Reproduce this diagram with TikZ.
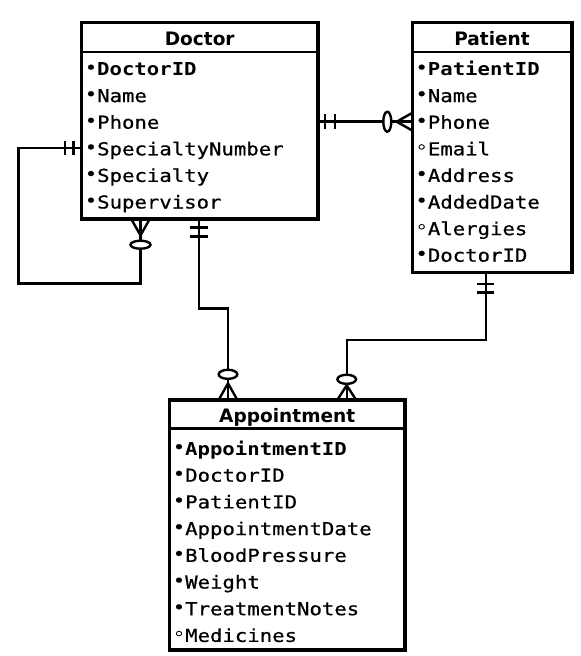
\documentclass[tikz,border=0pt]{standalone}
\usepackage{fontspec}
\setmainfont{DejaVu Sans}
\newfontfamily\attrfont[FakeStretch=1.16, UprightFeatures={FakeBold=0.7}]{DejaVu Sans Mono}
\usetikzlibrary{calc}
\newcommand{\mbul}{\raisebox{1.3pt}{•}}
\newcommand{\obul}{\raisebox{1.3pt}{◦}}
\tikzset{
  entity/.style={draw, line width=1.8pt, anchor=north west, inner sep=0pt, fill=white},
  sepline/.style={line width=1.8pt},
  title/.style={font=\fontsize{13.9pt}{16pt}\selectfont\bfseries, anchor=base, inner sep=0pt},
  attr/.style={font=\attrfont\fontsize{13.35pt}{16pt}\selectfont, anchor=base west, inner sep=0pt},
  link/.style={line width=1.8pt},
  oval/.style={line width=1.8pt, fill=white},
}
\begin{document}
\begin{tikzpicture}[x=0.75pt,y=-0.75pt]
\useasboundingbox (0,0) rectangle (581,656);

% ---------- entities ----------
\node[entity, minimum width=176.25pt, minimum height=146.25pt] (doc) at (81,22) {};
\node[entity, minimum width=118.7pt, minimum height=186.5pt] (pat) at (411.7,22) {};
\node[entity, minimum width=175.5pt, minimum height=186.5pt] (app) at (169,399.3) {};

% ---------- connectors ----------
% Doctor -- Patient
\coordinate (c1a) at (doc.east |- 0,121.7);
\coordinate (c1b) at (pat.west |- 0,121.7);
\draw[link] (c1a) -- (c1b);
\draw[link] ($(c1a)+(6.7,-7.5)$) -- ($(c1a)+(6.7,7.5)$);
\draw[link] ($(c1a)+(16.3,-7.5)$) -- ($(c1a)+(16.3,7.5)$);
\draw[link] ($(c1b)+(0,-8.5)$) -- ($(c1b)+(-15,0)$) -- ($(c1b)+(0,8.5)$);
\draw[oval] ($(c1b)+(-24.4,0)$) ellipse [x radius=3pt, y radius=7.5pt];

% Doctor self relation (Supervisor)
\coordinate (s1) at (doc.west |- 0,148.3);
\coordinate (s2) at (doc.south -| 140.5,0);
\draw[link] (s1) -| (18.3,283.3) -| (s2);
\draw[link] ($(s1)+(-16,-7)$) -- ($(s1)+(-16,7)$);
\draw[link] ($(s1)+(-7.7,-7)$) -- ($(s1)+(-7.7,7)$);
\draw[link] ($(s2)+(-9,0)$) -- ($(s2)+(0,16)$) -- ($(s2)+(9,0)$);
\draw[oval] ($(s2)+(0,25.3)$) ellipse [x radius=7.5pt, y radius=3pt];

% Doctor -- Appointment
\coordinate (d1) at (doc.south -| 198.8,0);
\coordinate (a1) at (app.north -| 228,0);
\draw[link] (d1) -- (d1 |- 0,308.3) -| (a1);
\draw[link] ($(d1)+(-9,8)$) -- ($(d1)+(9,8)$);
\draw[link] ($(d1)+(-9,17)$) -- ($(d1)+(9,17)$);
\draw[link] ($(a1)+(-9,0)$) -- ($(a1)+(0,-16)$) -- ($(a1)+(9,0)$);
\draw[oval] ($(a1)+(0,-25)$) ellipse [x radius=7pt, y radius=3.4pt];

% Patient -- Appointment
\coordinate (p1) at (pat.south -| 485.7,0);
\coordinate (a2) at (app.north -| 346.7,0);
\draw[link] (p1) -- (p1 |- 0,340) -| (a2);
\draw[link] ($(p1)+(-8.5,11)$) -- ($(p1)+(8.5,11)$);
\draw[link] ($(p1)+(-8.5,19.3)$) -- ($(p1)+(8.5,19.3)$);
\draw[link] ($(a2)+(-9,0)$) -- ($(a2)+(0,-14)$) -- ($(a2)+(9,0)$);
\draw[oval] ($(a2)+(0,-20)$) ellipse [x radius=7pt, y radius=3.4pt];

% redraw entity borders on top
\draw[sepline] (doc.north west) rectangle (doc.south east);
\draw[sepline] (pat.north west) rectangle (pat.south east);
\draw[sepline] (app.north west) rectangle (app.south east);

% header separators
\draw[sepline] ($(doc.north west)+(0,30)$) -- ($(doc.north east)+(0,30)$);
\draw[sepline] ($(pat.north west)+(0,30)$) -- ($(pat.north east)+(0,30)$);
\draw[sepline] ($(app.north west)+(0,29)$) -- ($(app.north east)+(0,29)$);

% titles
\node[title] (doct) at ($(doc.north)+(0,24)$) {Doctor};
\node[title] (patt) at ($(pat.north)+(0,24)$) {Patient};
\node[title] (appt) at ($(app.north)+(0,23)$) {Appointment};

% attributes
\foreach \t [count=\i from 0] in {{\mbul\bfseries DoctorID},\mbul Name,\mbul Phone,\mbul SpecialtyNumber,\mbul Specialty,\mbul Supervisor}
  \node[attr] (doca\i) at ($(doc.north west)+(3.5,53.5+26.6*\i)$) {\t};
\foreach \t [count=\i from 0] in {{\mbul\bfseries PatientID},\mbul Name,\mbul Phone,\obul Email,\mbul Address,\mbul AddedDate,\obul Alergies,\mbul DoctorID}
  \node[attr] (pata\i) at ($(pat.north west)+(3.5,53.5+26.6*\i)$) {\t};
\foreach \t [count=\i from 0] in {{\mbul\bfseries AppointmentID},\mbul DoctorID,\mbul PatientID,\mbul AppointmentDate,\mbul BloodPressure,\mbul Weight,\mbul TreatmentNotes,\obul Medicines}
  \node[attr] (appa\i) at ($(app.north west)+(3.5,55.7+26.7*\i)$) {\t};
\end{tikzpicture}
\end{document}
